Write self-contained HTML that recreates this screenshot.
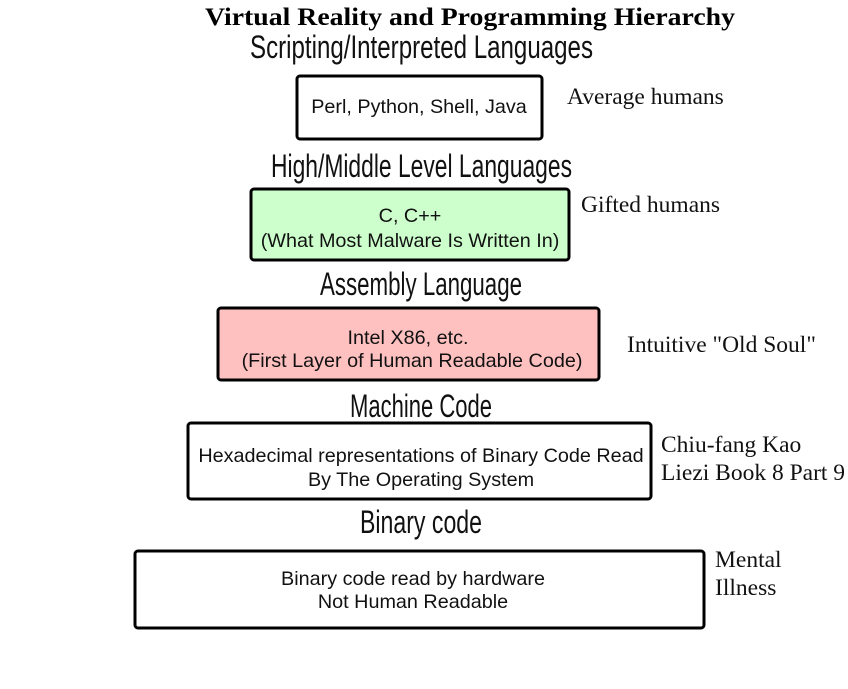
<!DOCTYPE html>
<html><head><style>
html,body{margin:0;padding:0;background:#fff;}
svg{display:block;}
.h{font-family:"Liberation Sans",sans-serif;font-size:32px;fill:#111;}
.b{font-family:"Liberation Sans",sans-serif;font-size:19.8px;fill:#111;}
.s{font-family:"Liberation Serif",serif;font-size:23.5px;fill:#111;}
rect{stroke:#000;stroke-width:3;}
</style></head><body>
<svg width="848" height="689" viewBox="0 0 848 689" xmlns="http://www.w3.org/2000/svg">
<text x="205" y="25" font-family="Liberation Serif,serif" font-weight="bold" font-size="25" textLength="530" lengthAdjust="spacingAndGlyphs">Virtual Reality and Programming Hierarchy</text>

<text class="h" x="250" y="58" textLength="343" lengthAdjust="spacingAndGlyphs">Scripting/Interpreted Languages</text>
<rect x="297" y="76" width="245" height="63" rx="3" fill="#fff"/>
<text class="b" x="419" y="113" text-anchor="middle">Perl, Python, Shell, Java</text>
<text class="s" x="567" y="104">Average humans</text>

<text class="h" x="271" y="177" textLength="301" lengthAdjust="spacingAndGlyphs">High/Middle Level Languages</text>
<rect x="251" y="189" width="318" height="71" rx="3" fill="#ccffcc"/>
<text class="b" x="410" y="222" text-anchor="middle">C, C++</text>
<text class="b" x="410" y="247" text-anchor="middle">(What Most Malware Is Written In)</text>
<text class="s" x="581" y="212">Gifted humans</text>

<text class="h" x="320" y="295" textLength="202" lengthAdjust="spacingAndGlyphs">Assembly Language</text>
<rect x="218" y="308" width="381" height="72" rx="3" fill="#ffc0c0"/>
<text class="b" x="408" y="344" text-anchor="middle">Intel X86, etc.</text>
<text class="b" x="412" y="367" text-anchor="middle">(First Layer of Human Readable Code)</text>
<text class="s" x="627" y="352">Intuitive "Old Soul"</text>

<text class="h" x="350" y="417" textLength="142" lengthAdjust="spacingAndGlyphs">Machine Code</text>
<rect x="188" y="423" width="463" height="76" rx="3" fill="#fff"/>
<text class="b" x="421" y="462" text-anchor="middle">Hexadecimal representations of Binary Code Read</text>
<text class="b" x="421" y="486" text-anchor="middle">By The Operating System</text>
<text class="s" x="661" y="452">Chiu-fang Kao</text>
<text class="s" x="661" y="480">Liezi Book 8 Part 9</text>

<text class="h" x="360" y="533" textLength="122" lengthAdjust="spacingAndGlyphs">Binary code</text>
<rect x="135" y="551" width="569" height="77" rx="3" fill="#fff"/>
<text class="b" x="413" y="585" text-anchor="middle">Binary code read by hardware</text>
<text class="b" x="413" y="608" text-anchor="middle">Not Human Readable</text>
<text class="s" x="715" y="567">Mental</text>
<text class="s" x="715" y="595">Illness</text>
</svg>
</body></html>
